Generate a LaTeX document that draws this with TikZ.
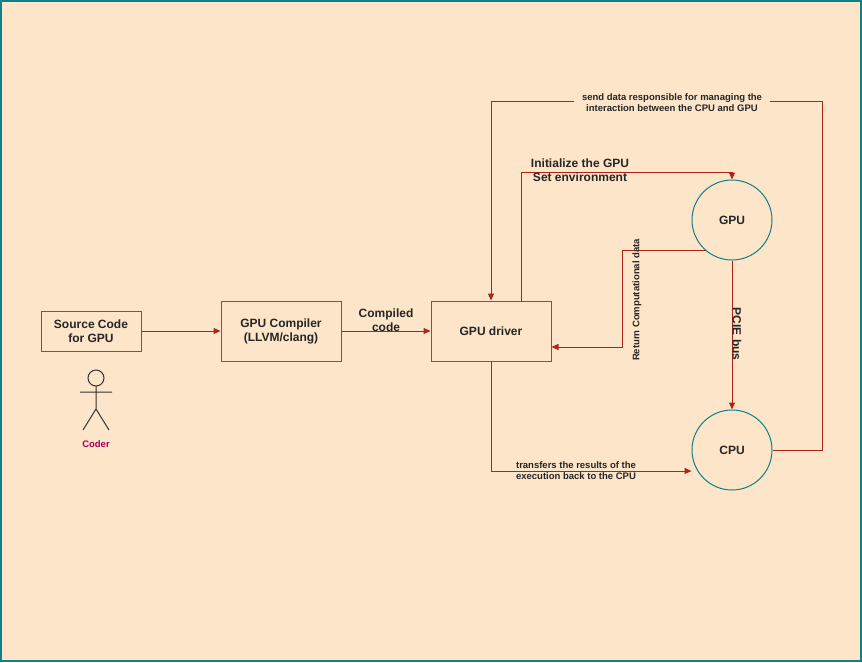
\documentclass[tikz,border=0pt]{standalone}
\usepackage{fontspec}
\setmainfont{Liberation Sans}
\usetikzlibrary{arrows.meta}
\definecolor{bg}{HTML}{FCE5C9}
\definecolor{tl}{HTML}{0E8088}
\definecolor{rd}{HTML}{B02418}
\begin{document}
\begin{tikzpicture}[x=1pt,y=-1pt,
  box/.style={draw=tl, line width=1pt, inner sep=0pt, font=\bfseries\fontsize{12}{14}\selectfont, align=center, text=black!85},
  circ/.style={draw=tl, line width=1pt, circle, minimum size=80pt, inner sep=0pt, font=\bfseries\fontsize{12}{14}\selectfont, text=black!85},
  con/.style={draw=rd, line width=1pt, -{Triangle[length=7pt,width=6pt]}},
  lbl/.style={font=\bfseries\fontsize{9.5}{11}\selectfont, align=center, text=black!85}]
\path[fill=bg, draw=tl, line width=1.5pt] (1,1) rectangle (861,661);
\useasboundingbox (0,0) rectangle (862,662);
\node[box, minimum width=100pt, minimum height=40pt] (src) at (91,331) {Source Code\\for GPU};
\node[box, minimum width=120pt, minimum height=60pt] (comp) at (281,331) {GPU Compiler\\(LLVM/clang)};
\node[box, minimum width=120pt, minimum height=60pt] (drv) at (491,331) {GPU driver};
\node[circ] (gpu) at (732,220) {GPU};
\node[circ] (cpu) at (732,450) {CPU};
\draw[con] (src) -- (comp);
\draw[con] (comp) -- node[lbl, above, font=\bfseries\fontsize{12}{14}\selectfont, yshift=-4pt] {Compiled\\code} (drv);
\coordinate (a1) at (521,172); \coordinate (a2) at (732,172);
\draw[con] (drv.north -| a1) -- (a1) -- (a2) -- (gpu.north);
\node[lbl, font=\bfseries\fontsize{12}{14}\selectfont] (l1) at (580,170) {Initialize the GPU\\Set environment};
\coordinate (b1) at (822,450); \coordinate (b2) at (822,101); \coordinate (b3) at (491,101);
\draw[con] (cpu.east) -- (b1) -- (b2) -- (b3) -- (drv.north);
\node[lbl, fill=bg, inner xsep=8pt] (l2) at (672,103) {send data responsible for managing the\\interaction between the CPU and GPU};
\coordinate (c0) at (705.5,250); \coordinate (c1) at (622,250); \coordinate (c2) at (622,347);
\draw[con] (c0) -- (c1) -- (c2) -- (c2 -| drv.east);
\node[lbl, rotate=90] (l3) at (637,300) {Return Computational data};
\draw[con] (gpu.south) -- (cpu.north);
\node[lbl, rotate=-90, font=\bfseries\fontsize{12}{14}\selectfont] (l4) at (737,334) {PCIE bus};
\coordinate (d1) at (491,471);
\draw[con] (drv.south) -- (d1) -- (d1 -| cpu.west);
\node[lbl] (l5) at (576,471) {transfers the results of the\\execution back to the CPU};
% coder
\draw[black!80, line width=1pt] (96,378) circle (8);
\draw[black!80, line width=1pt] (96,386) -- (96,409) (80,392) -- (112,392) (96,409) -- (83,430) (96,409) -- (109,430);
\node[font=\bfseries\fontsize{9.5}{11}\selectfont, text={rgb,255:red,170;green,0;blue,85}] (coder) at (96,444) {Coder};
\end{tikzpicture}
\end{document}
